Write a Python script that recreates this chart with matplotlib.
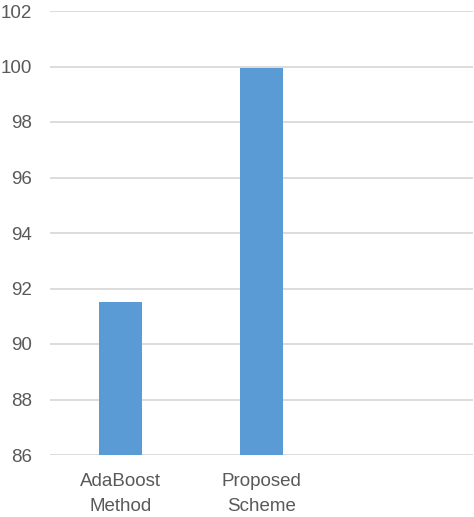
import matplotlib.pyplot as plt

categories = ["AdaBoost\nMethod", "Proposed\nScheme", ""]
values = [91.5, 99.95, None]
yticks = [86, 88, 90, 92, 94, 96, 98, 100, 102]

plt.rcParams['font.family'] = ['Liberation Sans', 'DejaVu Sans']

fig = plt.figure(figsize=(4.74, 5.17), dpi=100)
ax = fig.add_axes([50 / 474, 1 - 455 / 517, 423 / 474, 444 / 517])

xs = list(range(len(categories)))
for x, v in zip(xs, values):
    if v is not None:
        ax.bar(x, v - 86, bottom=86, width=0.31, color="#5b9bd5", zorder=3)

ax.set_xlim(-0.5, len(categories) - 0.5)
ax.set_ylim(86, 102)
ax.set_yticks(yticks)
ax.set_xticks(xs)
ax.set_xticklabels(categories, linespacing=1.6)
ax.grid(axis="y", color="#d9d9d9", linewidth=1.3, zorder=0)
for s in ax.spines.values():
    s.set_visible(False)
ax.tick_params(axis="both", length=0, labelsize=13.5, colors="#595959")
ax.tick_params(axis="y", pad=13)
ax.tick_params(axis="x", pad=13)

fig.savefig("out.png", dpi=100)
